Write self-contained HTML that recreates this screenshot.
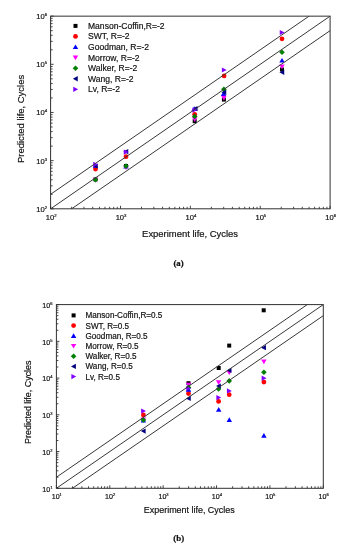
<!DOCTYPE html>
<html><head><meta charset="utf-8"><style>html,body{margin:0;padding:0;background:#fff;}svg{display:block;}</style></head>
<body><svg width="342" height="550" viewBox="0 0 342 550" font-family="Liberation Sans, Arial, sans-serif" fill="#111">
<style>text{stroke:#111;stroke-width:0.18px;}</style>
<rect width="342" height="550" fill="#fff"/>
<rect x="93.50" y="177.50" width="4.00" height="4.00" fill="#000000"/>
<rect x="124.00" y="164.00" width="4.00" height="4.00" fill="#000000"/>
<rect x="192.70" y="119.20" width="4.00" height="4.00" fill="#000000"/>
<rect x="221.90" y="97.60" width="4.00" height="4.00" fill="#000000"/>
<rect x="280.00" y="67.50" width="4.00" height="4.00" fill="#000000"/>
<circle cx="95.50" cy="169.00" r="2.40" fill="#ff0000"/>
<circle cx="126.00" cy="156.70" r="2.40" fill="#ff0000"/>
<circle cx="194.70" cy="114.30" r="2.40" fill="#ff0000"/>
<circle cx="224.10" cy="75.90" r="2.40" fill="#ff0000"/>
<circle cx="282.00" cy="38.80" r="2.40" fill="#ff0000"/>
<polygon points="95.50,163.00 98.23,167.68 92.77,167.68" fill="#0000ff"/>
<polygon points="126.00,163.80 128.73,168.48 123.27,168.48" fill="#0000ff"/>
<polygon points="194.20,106.30 196.93,110.98 191.47,110.98" fill="#0000ff"/>
<polygon points="223.50,91.20 226.23,95.88 220.77,95.88" fill="#0000ff"/>
<polygon points="282.00,57.90 284.73,62.58 279.27,62.58" fill="#0000ff"/>
<polygon points="95.50,182.40 98.23,177.72 92.77,177.72" fill="#ff00ff"/>
<polygon points="126.00,170.00 128.73,165.32 123.27,165.32" fill="#ff00ff"/>
<polygon points="194.70,121.90 197.43,117.22 191.97,117.22" fill="#ff00ff"/>
<polygon points="223.90,100.50 226.63,95.82 221.17,95.82" fill="#ff00ff"/>
<polygon points="282.00,69.10 284.73,64.42 279.27,64.42" fill="#ff00ff"/>
<polygon points="95.50,176.80 98.30,179.60 95.50,182.40 92.70,179.60" fill="#008000"/>
<polygon points="126.00,163.30 128.80,166.10 126.00,168.90 123.20,166.10" fill="#008000"/>
<polygon points="194.70,113.60 197.50,116.40 194.70,119.20 191.90,116.40" fill="#008000"/>
<polygon points="223.90,86.40 226.70,89.20 223.90,92.00 221.10,89.20" fill="#008000"/>
<polygon points="282.00,49.40 284.80,52.20 282.00,55.00 279.20,52.20" fill="#008000"/>
<polygon points="92.88,166.00 97.75,163.38 97.75,168.62" fill="#000080"/>
<polygon points="123.38,151.60 128.25,148.97 128.25,154.22" fill="#000080"/>
<polygon points="192.68,108.60 197.55,105.97 197.55,111.22" fill="#000080"/>
<polygon points="221.38,92.30 226.25,89.67 226.25,94.92" fill="#000080"/>
<polygon points="279.38,72.30 284.25,69.67 284.25,74.92" fill="#000080"/>
<polygon points="98.12,164.40 93.25,161.78 93.25,167.03" fill="#8000ff"/>
<polygon points="128.62,152.10 123.75,149.47 123.75,154.72" fill="#8000ff"/>
<polygon points="197.32,110.10 192.45,107.47 192.45,112.72" fill="#8000ff"/>
<polygon points="226.72,70.00 221.85,67.38 221.85,72.62" fill="#8000ff"/>
<polygon points="284.62,32.50 279.75,29.88 279.75,35.12" fill="#8000ff"/>
<clipPath id="ca"><rect x="50.6" y="16.15" width="279.5" height="192.65"/></clipPath>
<g clip-path="url(#ca)" stroke="#383838" stroke-width="1.0" fill="none">
<line x1="50.60" y1="194.30" x2="330.10" y2="1.65"/>
<line x1="50.60" y1="208.80" x2="330.10" y2="16.15"/>
<line x1="50.60" y1="223.30" x2="330.10" y2="30.65"/>
</g>
<path d="M50.60 208.80v-3 M50.60 208.80h3 M71.63 208.80v-2 M50.60 194.30h2 M83.94 208.80v-2 M50.60 185.82h2 M92.67 208.80v-2 M50.60 179.80h2 M99.44 208.80v-2 M50.60 175.14h2 M104.97 208.80v-2 M50.60 171.32h2 M109.65 208.80v-2 M50.60 168.10h2 M113.70 208.80v-2 M50.60 165.30h2 M117.28 208.80v-2 M50.60 162.84h2 M120.47 208.80v-3 M50.60 160.64h3 M141.51 208.80v-2 M50.60 146.14h2 M153.81 208.80v-2 M50.60 137.66h2 M162.54 208.80v-2 M50.60 131.64h2 M169.32 208.80v-2 M50.60 126.97h2 M174.85 208.80v-2 M50.60 123.16h2 M179.53 208.80v-2 M50.60 119.94h2 M183.58 208.80v-2 M50.60 117.14h2 M187.15 208.80v-2 M50.60 114.68h2 M190.35 208.80v-3 M50.60 112.48h3 M211.38 208.80v-2 M50.60 97.98h2 M223.69 208.80v-2 M50.60 89.50h2 M232.42 208.80v-2 M50.60 83.48h2 M239.19 208.80v-2 M50.60 78.81h2 M244.72 208.80v-2 M50.60 75.00h2 M249.40 208.80v-2 M50.60 71.77h2 M253.45 208.80v-2 M50.60 68.98h2 M257.03 208.80v-2 M50.60 66.52h2 M260.23 208.80v-3 M50.60 64.31h3 M281.26 208.80v-2 M50.60 49.81h2 M293.56 208.80v-2 M50.60 41.33h2 M302.29 208.80v-2 M50.60 35.32h2 M309.07 208.80v-2 M50.60 30.65h2 M314.60 208.80v-2 M50.60 26.83h2 M319.28 208.80v-2 M50.60 23.61h2 M323.33 208.80v-2 M50.60 20.82h2 M326.90 208.80v-2 M50.60 18.35h2 M330.10 208.80v-3 M50.60 16.15h3" stroke="#303030" stroke-width="0.9" fill="none"/>
<rect x="50.6" y="16.15" width="279.5" height="192.65" fill="none" stroke="#303030" stroke-width="1.0"/>
<text x="51.20" y="220.10" text-anchor="middle" font-size="7.6">10<tspan dy="-3.0" font-size="4.3">2</tspan></text>
<text x="47.20" y="211.70" text-anchor="end" font-size="7.6">10<tspan dy="-3.0" font-size="4.3">2</tspan></text>
<text x="121.07" y="220.10" text-anchor="middle" font-size="7.6">10<tspan dy="-3.0" font-size="4.3">3</tspan></text>
<text x="47.20" y="163.54" text-anchor="end" font-size="7.6">10<tspan dy="-3.0" font-size="4.3">3</tspan></text>
<text x="190.95" y="220.10" text-anchor="middle" font-size="7.6">10<tspan dy="-3.0" font-size="4.3">4</tspan></text>
<text x="47.20" y="115.38" text-anchor="end" font-size="7.6">10<tspan dy="-3.0" font-size="4.3">4</tspan></text>
<text x="260.83" y="220.10" text-anchor="middle" font-size="7.6">10<tspan dy="-3.0" font-size="4.3">5</tspan></text>
<text x="47.20" y="67.21" text-anchor="end" font-size="7.6">10<tspan dy="-3.0" font-size="4.3">5</tspan></text>
<text x="330.70" y="220.10" text-anchor="middle" font-size="7.6">10<tspan dy="-3.0" font-size="4.3">6</tspan></text>
<text x="47.20" y="19.05" text-anchor="end" font-size="7.6">10<tspan dy="-3.0" font-size="4.3">6</tspan></text>
<rect x="73.50" y="23.90" width="4.00" height="4.00" fill="#000000"/>
<text x="88.0" y="28.80" font-size="8.55">Manson-Coffin,R=-2</text>
<circle cx="75.50" cy="36.47" r="2.40" fill="#ff0000"/>
<text x="88.0" y="39.37" font-size="8.55">SWT, R=-2</text>
<polygon points="75.50,44.44 78.23,49.12 72.77,49.12" fill="#0000ff"/>
<text x="88.0" y="49.94" font-size="8.55">Goodman, R=-2</text>
<polygon points="75.50,60.21 78.23,55.53 72.77,55.53" fill="#ff00ff"/>
<text x="88.0" y="60.51" font-size="8.55">Morrow, R=-2</text>
<polygon points="75.50,65.38 78.30,68.18 75.50,70.98 72.70,68.18" fill="#008000"/>
<text x="88.0" y="71.08" font-size="8.55">Walker, R=-2</text>
<polygon points="72.88,78.75 77.75,76.12 77.75,81.38" fill="#000080"/>
<text x="88.0" y="81.65" font-size="8.55">Wang, R=-2</text>
<polygon points="78.12,89.32 73.25,86.69 73.25,91.94" fill="#8000ff"/>
<text x="88.0" y="92.22" font-size="8.55">Lv, R=-2</text>
<text x="142.1" y="237.0" font-size="9.45">Experiment life, Cycles</text>
<text transform="translate(24.4,163.0) rotate(-90)" font-size="9.45">Predicted life, Cycles</text>
<text x="173.4" y="265.6" font-size="7.2" font-family="Liberation Serif, serif" font-weight="bold" textLength="10.2" lengthAdjust="spacingAndGlyphs">(a)</text>
<rect x="186.50" y="381.20" width="4.00" height="4.00" fill="#000000"/>
<rect x="216.70" y="366.00" width="4.00" height="4.00" fill="#000000"/>
<rect x="227.20" y="343.60" width="4.00" height="4.00" fill="#000000"/>
<rect x="261.70" y="308.30" width="4.00" height="4.00" fill="#000000"/>
<circle cx="143.40" cy="414.90" r="2.40" fill="#ff0000"/>
<circle cx="188.50" cy="393.50" r="2.40" fill="#ff0000"/>
<circle cx="218.60" cy="401.40" r="2.40" fill="#ff0000"/>
<circle cx="229.20" cy="394.70" r="2.40" fill="#ff0000"/>
<circle cx="263.90" cy="382.10" r="2.40" fill="#ff0000"/>
<polygon points="143.40,417.80 146.13,422.48 140.67,422.48" fill="#0000ff"/>
<polygon points="188.50,387.00 191.23,391.68 185.77,391.68" fill="#0000ff"/>
<polygon points="218.70,407.00 221.43,411.68 215.97,411.68" fill="#0000ff"/>
<polygon points="229.30,417.30 232.03,421.98 226.57,421.98" fill="#0000ff"/>
<polygon points="263.90,433.10 266.63,437.78 261.17,437.78" fill="#0000ff"/>
<polygon points="143.40,422.20 146.13,417.52 140.67,417.52" fill="#ff00ff"/>
<polygon points="188.50,387.50 191.23,382.82 185.77,382.82" fill="#ff00ff"/>
<polygon points="218.60,385.00 221.33,380.32 215.87,380.32" fill="#ff00ff"/>
<polygon points="229.20,375.10 231.93,370.42 226.47,370.42" fill="#ff00ff"/>
<polygon points="263.90,364.20 266.63,359.52 261.17,359.52" fill="#ff00ff"/>
<polygon points="143.40,417.20 146.20,420.00 143.40,422.80 140.60,420.00" fill="#008000"/>
<polygon points="188.50,384.60 191.30,387.40 188.50,390.20 185.70,387.40" fill="#008000"/>
<polygon points="218.60,386.10 221.40,388.90 218.60,391.70 215.80,388.90" fill="#008000"/>
<polygon points="229.20,378.10 232.00,380.90 229.20,383.70 226.40,380.90" fill="#008000"/>
<polygon points="263.90,369.40 266.70,372.20 263.90,375.00 261.10,372.20" fill="#008000"/>
<polygon points="140.78,431.10 145.65,428.48 145.65,433.73" fill="#000080"/>
<polygon points="185.88,398.40 190.75,395.77 190.75,401.02" fill="#000080"/>
<polygon points="215.97,386.00 220.85,383.38 220.85,388.62" fill="#000080"/>
<polygon points="226.57,370.40 231.45,367.77 231.45,373.02" fill="#000080"/>
<polygon points="261.07,347.70 265.95,345.07 265.95,350.32" fill="#000080"/>
<polygon points="146.03,411.00 141.15,408.38 141.15,413.62" fill="#8000ff"/>
<polygon points="191.12,388.50 186.25,385.88 186.25,391.12" fill="#8000ff"/>
<polygon points="221.22,397.60 216.35,394.98 216.35,400.23" fill="#8000ff"/>
<polygon points="231.82,390.90 226.95,388.27 226.95,393.52" fill="#8000ff"/>
<polygon points="266.52,378.20 261.65,375.57 261.65,380.82" fill="#8000ff"/>
<clipPath id="cb"><rect x="56.4" y="304.6" width="266.90000000000003" height="183.7"/></clipPath>
<g clip-path="url(#cb)" stroke="#383838" stroke-width="1.0" fill="none">
<line x1="56.40" y1="477.24" x2="323.30" y2="293.54"/>
<line x1="56.40" y1="488.30" x2="323.30" y2="304.60"/>
<line x1="56.40" y1="499.36" x2="323.30" y2="315.66"/>
</g>
<path d="M56.40 488.30v-3 M56.40 488.30h3 M72.47 488.30v-2 M56.40 477.24h2 M81.87 488.30v-2 M56.40 470.77h2 M88.54 488.30v-2 M56.40 466.18h2 M93.71 488.30v-2 M56.40 462.62h2 M97.94 488.30v-2 M56.40 459.71h2 M101.51 488.30v-2 M56.40 457.25h2 M104.61 488.30v-2 M56.40 455.12h2 M107.34 488.30v-2 M56.40 453.24h2 M109.78 488.30v-3 M56.40 451.56h3 M125.85 488.30v-2 M56.40 440.50h2 M135.25 488.30v-2 M56.40 434.03h2 M141.92 488.30v-2 M56.40 429.44h2 M147.09 488.30v-2 M56.40 425.88h2 M151.32 488.30v-2 M56.40 422.97h2 M154.89 488.30v-2 M56.40 420.51h2 M157.99 488.30v-2 M56.40 418.38h2 M160.72 488.30v-2 M56.40 416.50h2 M163.16 488.30v-3 M56.40 414.82h3 M179.23 488.30v-2 M56.40 403.76h2 M188.63 488.30v-2 M56.40 397.29h2 M195.30 488.30v-2 M56.40 392.70h2 M200.47 488.30v-2 M56.40 389.14h2 M204.70 488.30v-2 M56.40 386.23h2 M208.27 488.30v-2 M56.40 383.77h2 M211.37 488.30v-2 M56.40 381.64h2 M214.10 488.30v-2 M56.40 379.76h2 M216.54 488.30v-3 M56.40 378.08h3 M232.61 488.30v-2 M56.40 367.02h2 M242.01 488.30v-2 M56.40 360.55h2 M248.68 488.30v-2 M56.40 355.96h2 M253.85 488.30v-2 M56.40 352.40h2 M258.08 488.30v-2 M56.40 349.49h2 M261.65 488.30v-2 M56.40 347.03h2 M264.75 488.30v-2 M56.40 344.90h2 M267.48 488.30v-2 M56.40 343.02h2 M269.92 488.30v-3 M56.40 341.34h3 M285.99 488.30v-2 M56.40 330.28h2 M295.39 488.30v-2 M56.40 323.81h2 M302.06 488.30v-2 M56.40 319.22h2 M307.23 488.30v-2 M56.40 315.66h2 M311.46 488.30v-2 M56.40 312.75h2 M315.03 488.30v-2 M56.40 310.29h2 M318.13 488.30v-2 M56.40 308.16h2 M320.86 488.30v-2 M56.40 306.28h2 M323.30 488.30v-3 M56.40 304.60h3" stroke="#303030" stroke-width="0.9" fill="none"/>
<rect x="56.4" y="304.6" width="266.90000000000003" height="183.7" fill="none" stroke="#303030" stroke-width="1.0"/>
<text x="56.80" y="498.80" text-anchor="middle" font-size="7.1">10<tspan dy="-3.0" font-size="4.1">1</tspan></text>
<text x="52.50" y="491.60" text-anchor="end" font-size="7.1">10<tspan dy="-3.0" font-size="4.1">1</tspan></text>
<text x="110.18" y="498.80" text-anchor="middle" font-size="7.1">10<tspan dy="-3.0" font-size="4.1">2</tspan></text>
<text x="52.50" y="454.86" text-anchor="end" font-size="7.1">10<tspan dy="-3.0" font-size="4.1">2</tspan></text>
<text x="163.56" y="498.80" text-anchor="middle" font-size="7.1">10<tspan dy="-3.0" font-size="4.1">3</tspan></text>
<text x="52.50" y="418.12" text-anchor="end" font-size="7.1">10<tspan dy="-3.0" font-size="4.1">3</tspan></text>
<text x="216.94" y="498.80" text-anchor="middle" font-size="7.1">10<tspan dy="-3.0" font-size="4.1">4</tspan></text>
<text x="52.50" y="381.38" text-anchor="end" font-size="7.1">10<tspan dy="-3.0" font-size="4.1">4</tspan></text>
<text x="270.32" y="498.80" text-anchor="middle" font-size="7.1">10<tspan dy="-3.0" font-size="4.1">5</tspan></text>
<text x="52.50" y="344.64" text-anchor="end" font-size="7.1">10<tspan dy="-3.0" font-size="4.1">5</tspan></text>
<text x="323.70" y="498.80" text-anchor="middle" font-size="7.1">10<tspan dy="-3.0" font-size="4.1">6</tspan></text>
<text x="52.50" y="307.90" text-anchor="end" font-size="7.1">10<tspan dy="-3.0" font-size="4.1">6</tspan></text>
<rect x="71.60" y="313.40" width="4.00" height="4.00" fill="#000000"/>
<text x="85.5" y="318.30" font-size="8.14">Manson-Coffin,R=0.5</text>
<circle cx="73.60" cy="325.60" r="2.40" fill="#ff0000"/>
<text x="85.5" y="328.50" font-size="8.14">SWT, R=0.5</text>
<polygon points="73.60,333.20 76.33,337.88 70.87,337.88" fill="#0000ff"/>
<text x="85.5" y="338.70" font-size="8.14">Goodman, R=0.5</text>
<polygon points="73.60,348.60 76.33,343.92 70.87,343.92" fill="#ff00ff"/>
<text x="85.5" y="348.90" font-size="8.14">Morrow, R=0.5</text>
<polygon points="73.60,353.40 76.40,356.20 73.60,359.00 70.80,356.20" fill="#008000"/>
<text x="85.5" y="359.10" font-size="8.14">Walker, R=0.5</text>
<polygon points="70.97,366.40 75.85,363.77 75.85,369.02" fill="#000080"/>
<text x="85.5" y="369.30" font-size="8.14">Wang, R=0.5</text>
<polygon points="76.22,376.60 71.35,373.97 71.35,379.22" fill="#8000ff"/>
<text x="85.5" y="379.50" font-size="8.14">Lv, R=0.5</text>
<text x="143.8" y="513.1" font-size="8.95">Experiment life, Cycles</text>
<text transform="translate(31.3,443.9) rotate(-90)" font-size="8.95">Predicted life, Cycles</text>
<text x="173.3" y="541.2" font-size="7.5" font-family="Liberation Serif, serif" font-weight="bold" textLength="10.8" lengthAdjust="spacingAndGlyphs">(b)</text>
</svg></body></html>
